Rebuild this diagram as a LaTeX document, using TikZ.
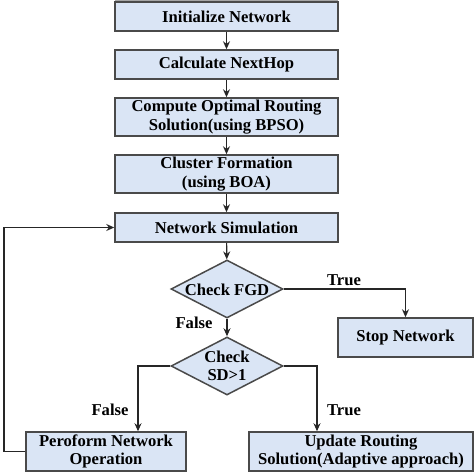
\documentclass[tikz,border=0pt]{standalone}
\usepackage{fontspec}
\setmainfont{Liberation Serif}
\usetikzlibrary{arrows.meta,shapes.geometric}
\definecolor{boxfill}{HTML}{DAE5F5}
\definecolor{boxline}{HTML}{4A4A4A}
\begin{document}
\begin{tikzpicture}[x=1pt,y=-1pt,
  every node/.style={font=\bfseries\fontsize{16.6}{18.5}\selectfont, text=black},
  procbox/.style={draw=boxline, line width=1.5pt, fill=boxfill, align=center, inner sep=0pt},
  decision/.style={draw=boxline, line width=1.5pt, fill=boxfill, align=center, diamond, inner sep=0pt},
  conn/.style={draw=black!85, line width=1.2pt, -{Stealth[length=8pt,width=7pt]}},
  lbl/.style={inner sep=0pt}]
\useasboundingbox (0,0) rectangle (474,474);
\fill[gray!70] (115,0) rectangle (338,2);
\node[procbox, minimum width=223pt, minimum height=29pt] (init) at (226.5,16.5) {Initialize Network};
\node[procbox, minimum width=223pt, minimum height=29pt] (next) at (226.5,64.5) {Calculate NextHop};
\node[procbox, minimum width=223pt, minimum height=38pt] (bpso) at (226.5,117) {Compute Optimal Routing\\Solution(using BPSO)};
\node[procbox, minimum width=223pt, minimum height=38pt] (boa) at (226.5,174) {Cluster Formation\\(using BOA)};
\node[procbox, minimum width=223pt, minimum height=29pt] (sim) at (226.5,227.5) {Network Simulation};
\node[decision, minimum width=112pt, minimum height=58pt] (fgd) at (227,289) {};
\node at (227,289.5) {Check FGD};
\node[decision, minimum width=112pt, minimum height=58pt] (sd) at (227,366) {};
\node[align=center] at (227,366) {Check\\SD>1};
\node[procbox, minimum width=135pt, minimum height=39pt] (stop) at (405.5,337.5) {Stop Network};
\node[procbox, minimum width=160pt, minimum height=39pt] (perf) at (106,451.5) {Peroform Network\\Operation};
\node[procbox, minimum width=224pt, minimum height=39pt] (upd) at (361,451.5) {Update Routing\\Solution(Adaptive approach)};
\coordinate (fb) at (4,451.5);
\draw[conn] (init) -- (next);
\draw[conn] (next) -- (bpso);
\draw[conn] (bpso) -- (boa);
\draw[conn] (boa) -- (sim);
\draw[conn] (sim) -- (fgd);
\draw[conn] (fgd) -- (sd);
\draw[conn] (fgd.east) -| (stop.north);
\draw[conn] (sd.west) -| (perf.north -| 138,0);
\draw[conn] (sd.east) -| (upd.north -| 317,0);
\draw[conn] (perf.west) -- (fb) |- (sim.west);
\node[lbl] at (344,280) {True};
\node[lbl] at (194,323) {False};
\node[lbl] at (110,410) {False};
\node[lbl] at (344,410) {True};
\end{tikzpicture}
\end{document}
